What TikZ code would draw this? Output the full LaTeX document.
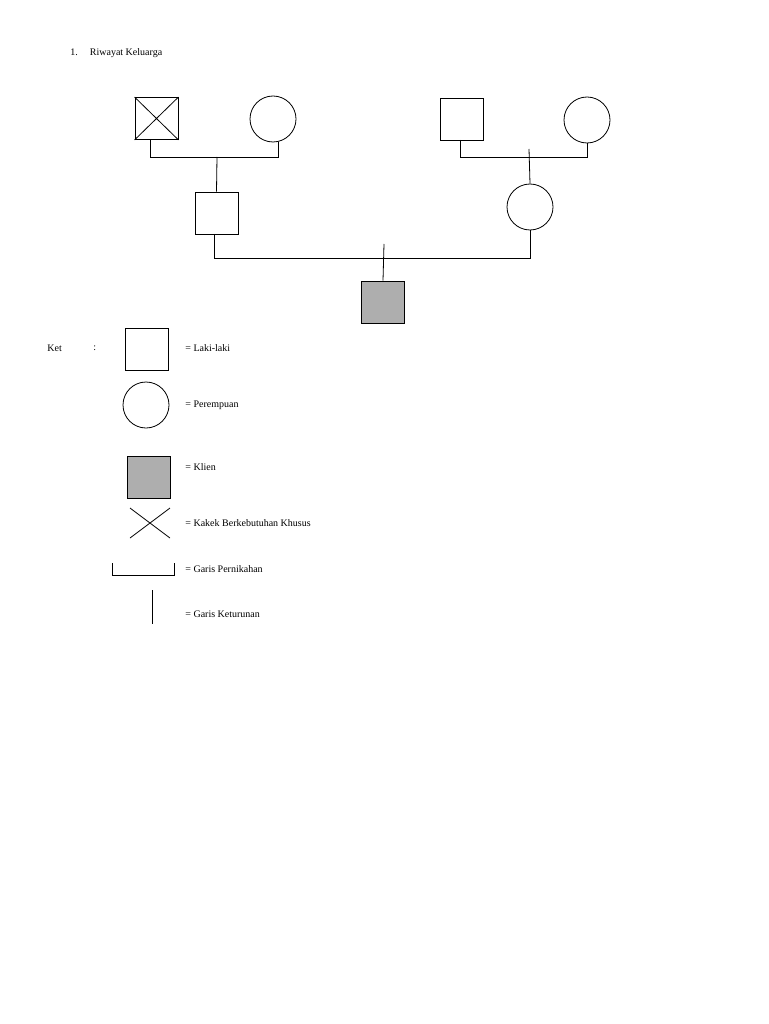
\documentclass[tikz,border=0pt]{standalone}
\usepackage{fontspec}
\setmainfont{Liberation Serif}
\begin{document}
\begin{tikzpicture}[x=1pt,y=-1pt,line width=0.8pt,
  male/.style={draw,minimum width=43pt,minimum height=42pt,inner sep=0pt},
  female/.style={draw,circle,minimum size=46pt,inner sep=0pt},
  client/.style={male,fill=gray!85!black!55},
  txt/.style={anchor=west,font=\fontsize{10pt}{12pt}\selectfont,inner sep=0pt}]
\useasboundingbox (0,0) rectangle (768,1024);
\node[txt] (title) at (70,53) {1.\hspace{12pt}Riwayat Keluarga};
% pedigree
\node[male] (gf1) at (156.5,118.5) {};
\draw (gf1.north west) -- (gf1.south east) (gf1.north east) -- (gf1.south west);
\node[female] (gm1) at (273,119) {};
\node[male] (gf2) at (462,119) {};
\node[female] (gm2) at (587,120) {};
\node[male] (fa) at (216.5,213) {};
\node[female] (mo) at (530,207) {};
\node[client] (kl) at (383,302) {};
\coordinate (m1) at (217,157);
\coordinate (m2) at (529,157);
\coordinate (m3) at (384,258);
\draw (150,140) -- (150,157) -- (278,157) -- (278,142);
\draw (m1) -- (fa.north);
\draw (460,140) -- (460,157) -- (587,157) -- (587,143);
\draw (529,149) -- (mo.north);
\draw (214,234) -- (214,258) -- (530,258) -- (530,230);
\draw (384,244) -- (kl.north);
% legend
\node[txt] (ket) at (47,348) {Ket};
\node[txt] (colon) at (93,348) {:};
\node[male] (lm) at (146.5,349) {};
\node[txt] (t1) at (185,348) {= Laki-laki};
\node[female] (lf) at (146,405) {};
\node[txt] (t2) at (185,405) {= Perempuan};
\node[client] (lk) at (149,477.5) {};
\node[txt] (t3) at (185,467) {= Klien};
\draw (130,508) -- (170,538) (130,538) -- (170,508);
\node[txt] (t4) at (185,523) {= Kakek Berkebutuhan Khusus};
\draw[line width=0.6pt] (112,563) -- (112,575) -- (174,575) -- (174,563);
\node[txt] (t5) at (185,569) {= Garis Pernikahan};
\draw (152,590) -- (152,624);
\node[txt] (t6) at (185,614) {= Garis Keturunan};
\end{tikzpicture}
\end{document}
